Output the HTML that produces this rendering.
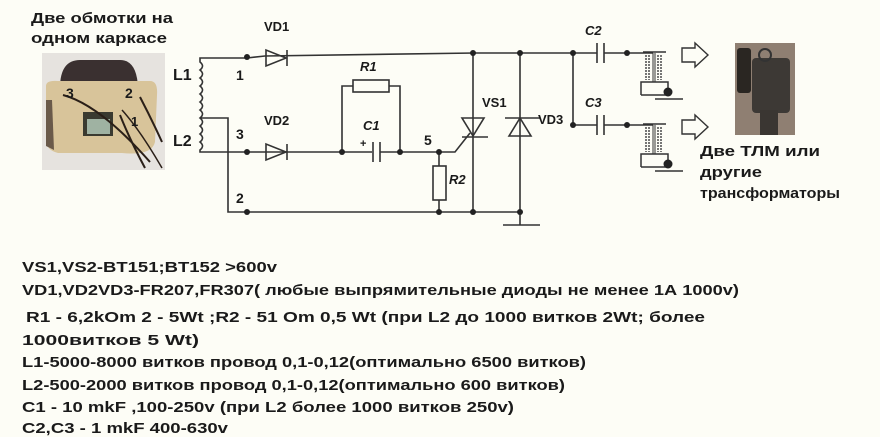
<!DOCTYPE html>
<html><head><meta charset="utf-8"><style>
html,body{margin:0;padding:0;background:#fdfdf6;}
svg{display:block;}
text{font-family:"Liberation Sans",sans-serif;font-weight:bold;fill:#1a1a1a;}
</style></head><body>
<svg width="880" height="437" viewBox="0 0 880 437" xmlns="http://www.w3.org/2000/svg">
<rect width="880" height="437" fill="#fdfdf6"/>
<text x="31" y="23" font-size="15" textLength="142" lengthAdjust="spacingAndGlyphs">Две обмотки на</text>
<text x="31" y="43" font-size="15" textLength="136" lengthAdjust="spacingAndGlyphs">одном каркасе</text>
<!-- left photo -->
<rect x="42" y="53" width="123" height="117" fill="#e6e3df"/>
<path d="M60 88 Q60 60 80 60 L120 60 Q137 60 138 88 Z" fill="#3a3030"/>
<path d="M46 86 Q46 80 58 81 L150 81 Q158 81 157 95 L155 142 Q152 156 122 153 L58 153 Q46 150 46 140 Z" fill="#d8c49a"/>
<path d="M46 100 L52 100 L54 150 L46 146 Z" fill="#6a5a4a"/>
<rect x="83" y="112" width="30" height="24" fill="#3a3a30"/>
<rect x="87" y="119" width="23" height="15" fill="#9fb2a2"/>
<path d="M63 95 Q100 105 150 162" stroke="#2a1f18" stroke-width="2" fill="none"/>
<path d="M120 115 Q130 140 145 168" stroke="#2a1f18" stroke-width="2" fill="none"/>
<path d="M140 97 Q152 120 162 142" stroke="#2a1f18" stroke-width="2" fill="none"/>
<path d="M122 110 Q140 130 162 168" stroke="#2a1f18" stroke-width="1.5" fill="none"/>
<text x="66" y="98" font-size="14">3</text>
<text x="125" y="98" font-size="14">2</text>
<text x="131" y="126" font-size="13">1</text>
<g stroke="#333" stroke-width="1.6" fill="none">
<path d="M208 58 L200 58 L200 62 q5 4 0 8 q5 4 0 8 q5 4 0 8 q5 4 0 8 q5 4 0 8 q5 4 0 8 q5 4 0 8 q5 4 0 8 q5 4 0 8 q5 4 0 8 q5 4 0 8 L200 152 L247 152"/>
<path d="M200 118 L228 118 L228 212 L520 212"/>
<path d="M208 58 L247 58 L265 56 L475 53 L573 53 L597 53"/>
<path d="M597 125 L573 125 L573 53"/>
<path d="M266 50 L266 66 L286 58 Z"/><path d="M287 50 L287 66"/>
<path d="M266 144 L266 160 L286 152 Z"/><path d="M287 144 L287 160"/>
<path d="M247 152 L372 152"/><path d="M380 152 L455 152 L470 133"/>
<path d="M342 152 L342 86 L353 86"/><rect x="353" y="80" width="36" height="12"/><path d="M389 86 L400 86 L400 152"/>
<path d="M373 142 L373 162 M380 142 L380 162"/>
<path d="M439 152 L439 166"/><rect x="433" y="166" width="13" height="34"/><path d="M439 200 L439 212"/>
<path d="M473 53 L473 212"/><path d="M462 118 L484 118 L473 136 Z"/><path d="M462 137 L488 137"/>
<path d="M520 53 L520 225"/><path d="M509 136 L531 136 L520 118 Z"/><path d="M505 118 L540 118"/>
<path d="M503 225 L540 225"/>
<path d="M597 43 L597 63 M604 43 L604 63 M604 53 L653 53"/>
<path d="M597 115 L597 135 M604 115 L604 135 M604 125 L653 125"/>
</g>
<g fill="#222">
<circle cx="247" cy="57" r="3"/><circle cx="247" cy="152" r="3"/><circle cx="247" cy="212" r="3"/>
<circle cx="342" cy="152" r="3"/><circle cx="400" cy="152" r="3"/><circle cx="439" cy="152" r="3"/><circle cx="439" cy="212" r="3"/>
<circle cx="473" cy="53" r="3"/><circle cx="473" cy="212" r="3"/><circle cx="520" cy="53" r="3"/><circle cx="520" cy="212" r="3"/>
<circle cx="573" cy="53" r="3"/><circle cx="573" cy="125" r="3"/><circle cx="627" cy="53" r="3"/><circle cx="627" cy="125" r="3"/>
</g>
<g id="t1" fill="none">
<path d="M643 52 L666 52" stroke="#333" stroke-width="1.6"/>
<path d="M646 55 L646 80 M649 55 L649 80 M658 55 L658 80 M661 55 L661 80" stroke="#555" stroke-width="1.6" stroke-dasharray="2 1"/>
<path d="M653 53 L653 82 M655 53 L655 82" stroke="#333" stroke-width="1"/>
<path d="M641 95 L641 82 L668 82 L668 95 L641 95" stroke="#333" stroke-width="1.5"/>
<path d="M655 99 L683 99" stroke="#333" stroke-width="1.6"/>
<path d="M682 48 L695 48 L695 43 L708 55 L695 67 L695 62 L682 62 Z" stroke="#333" stroke-width="1.4"/>
</g>
<circle cx="668" cy="92" r="4.5" fill="#222"/>
<use href="#t1" y="72"/>
<circle cx="668" cy="164" r="4.5" fill="#222"/>
<text x="173" y="80" font-size="16">L1</text>
<text x="173" y="146" font-size="16">L2</text>
<text x="236" y="80" font-size="14">1</text>
<text x="236" y="139" font-size="14">3</text>
<text x="236" y="203" font-size="14">2</text>
<text x="264" y="31" font-size="13" font-weight="normal">VD1</text>
<text x="264" y="125" font-size="13" font-weight="normal">VD2</text>
<text x="360" y="71" font-size="13" font-style="italic" font-weight="normal">R1</text>
<text x="363" y="130" font-size="13" font-style="italic" font-weight="normal">C1</text>
<text x="360" y="147" font-size="11" font-weight="normal">+</text>
<text x="424" y="145" font-size="14">5</text>
<text x="449" y="184" font-size="13" font-style="italic" font-weight="normal">R2</text>
<text x="482" y="107" font-size="13" font-weight="normal">VS1</text>
<text x="538" y="124" font-size="13" font-weight="normal">VD3</text>
<text x="585" y="35" font-size="13" font-style="italic" font-weight="normal">C2</text>
<text x="585" y="107" font-size="13" font-style="italic" font-weight="normal">C3</text>
<rect x="735" y="43" width="60" height="92" fill="#8f7f72"/>
<rect x="737" y="48" width="14" height="45" rx="3" fill="#2a2622"/>
<rect x="752" y="58" width="38" height="55" rx="4" fill="#3d3935"/>
<rect x="760" y="110" width="18" height="25" fill="#3a3632"/>
<circle cx="765" cy="55" r="6" fill="none" stroke="#333" stroke-width="2"/>
<text x="700" y="156" font-size="15" textLength="120" lengthAdjust="spacingAndGlyphs">Две ТЛМ или</text>
<text x="700" y="177" font-size="15" textLength="62" lengthAdjust="spacingAndGlyphs">другие</text>
<text x="700" y="198" font-size="15" textLength="140" lengthAdjust="spacingAndGlyphs">трансформаторы</text>
<g font-size="15">
<text x="22" y="272" textLength="255" lengthAdjust="spacingAndGlyphs">VS1,VS2-BT151;BT152 &gt;600v</text>
<text x="22" y="295" textLength="717" lengthAdjust="spacingAndGlyphs">VD1,VD2VD3-FR207,FR307( любые выпрямительные диоды не менее 1А 1000v)</text>
<text x="26" y="322" textLength="679" lengthAdjust="spacingAndGlyphs">R1 - 6,2kOm  2 - 5Wt ;R2 - 51 Om 0,5 Wt (при L2 до 1000 витков 2Wt; более</text>
<text x="22" y="345" textLength="177" lengthAdjust="spacingAndGlyphs">1000витков 5 Wt)</text>
<text x="22" y="367" textLength="564" lengthAdjust="spacingAndGlyphs">L1-5000-8000 витков провод 0,1-0,12(оптимально 6500 витков)</text>
<text x="22" y="390" textLength="543" lengthAdjust="spacingAndGlyphs">L2-500-2000 витков провод 0,1-0,12(оптимально 600 витков)</text>
<text x="22" y="412" textLength="492" lengthAdjust="spacingAndGlyphs">C1 - 10 mkF ,100-250v (при L2 более 1000 витков 250v)</text>
<text x="22" y="433" textLength="206" lengthAdjust="spacingAndGlyphs">C2,C3 - 1 mkF 400-630v</text>
</g>
</svg>
</body></html>
